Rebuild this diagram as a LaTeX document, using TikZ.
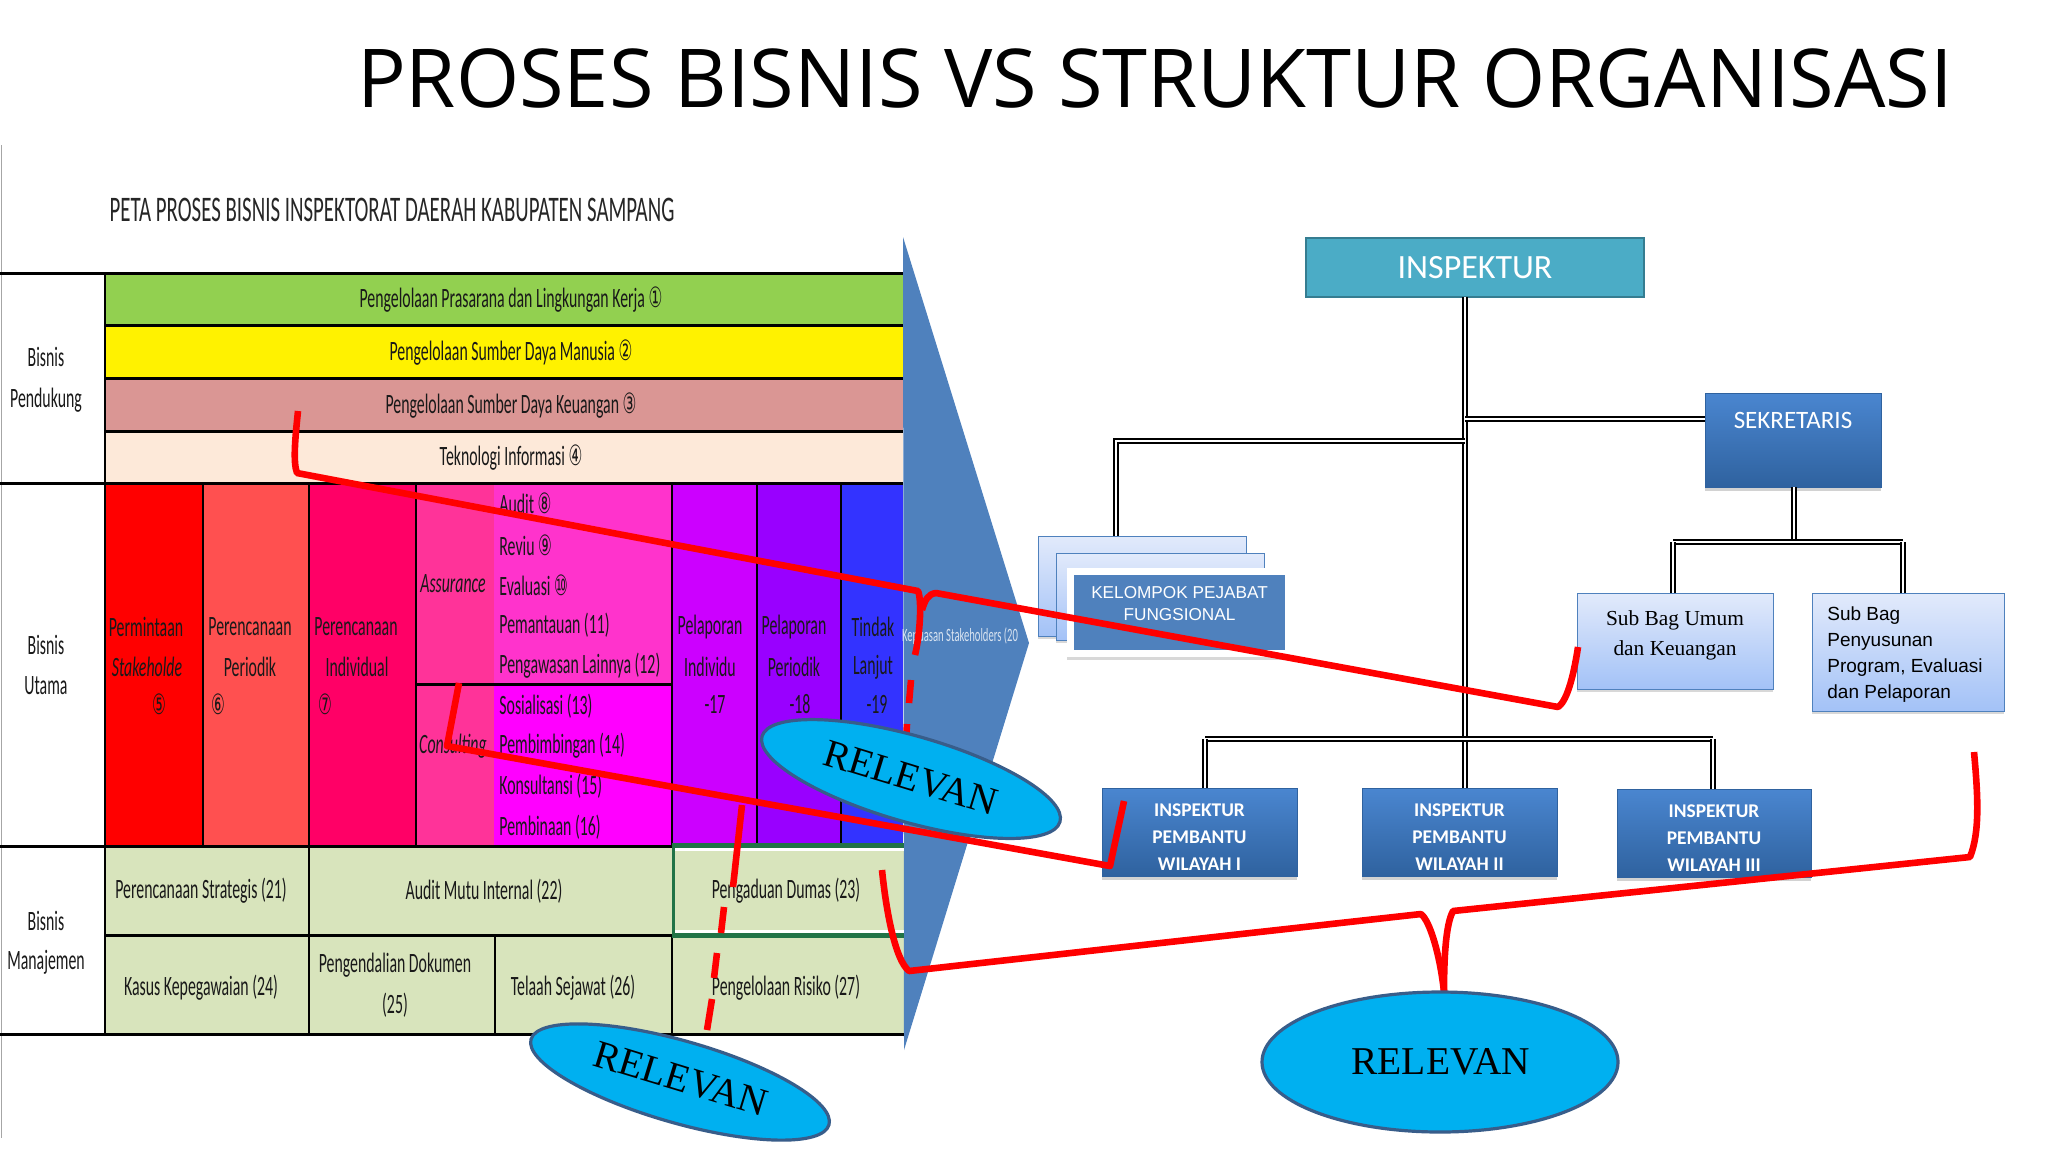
\documentclass[tikz,border=0pt]{standalone}
\usepackage{fontspec}
\usetikzlibrary{shadows,calc,shapes.geometric}
\setmainfont{Liberation Serif}
\newfontfamily\titlef{Open Sans}
\newfontfamily\tabf[FakeStretch=0.565]{Carlito}
\newfontfamily\hdf[FakeStretch=0.58]{Carlito}
\newfontfamily\circf[FakeStretch=0.55]{DejaVu Sans}
\newfontfamily\calf{Carlito}
\newfontfamily\arialf{Liberation Sans}
\newfontfamily\serf{Liberation Serif}
\newcommand{\cn}[1]{{\circf #1}}
\newcommand{\bx}[7]{%
 \pgfmathsetmacro\bxcx{(#3+#5)/2}\pgfmathsetmacro\bxcy{(#4+#6)/2}%
 \pgfmathsetmacro\bxw{(#5-#3)*0.5}\pgfmathsetmacro\bxh{(#6-#4)*0.5}%
 \node[#1,minimum width=\bxw pt,minimum height=\bxh pt] (#2) at (\bxcx,\bxcy) {#7};}
\definecolor{tgreen}{HTML}{92D050}
\definecolor{tpink}{HTML}{DA9694}
\definecolor{tpeach}{HTML}{FDE9D9}
\definecolor{c1}{HTML}{FF0000}
\definecolor{c2}{HTML}{FF5050}
\definecolor{c3}{HTML}{FF0066}
\definecolor{c4}{HTML}{FF3399}
\definecolor{c5}{HTML}{FF33CC}
\definecolor{c6}{HTML}{FF00FF}
\definecolor{c7}{HTML}{CC00FF}
\definecolor{c8}{HTML}{9900FF}
\definecolor{c9}{HTML}{3333FF}
\definecolor{olivecell}{HTML}{D8E4BC}
\definecolor{arrowblue}{HTML}{4F81BD}
\definecolor{selgreen}{HTML}{217346}
\definecolor{cyanfill}{HTML}{00B0F0}
\definecolor{ellborder}{HTML}{385D8A}
\definecolor{inspfill}{HTML}{4BACC6}
\definecolor{inspdraw}{HTML}{357D91}
\definecolor{btop}{HTML}{4A86D0}
\definecolor{bbot}{HTML}{2F629F}
\definecolor{ltop}{HTML}{E2EAFB}
\definecolor{lbot}{HTML}{A3C2F7}
\tikzset{
 cellb/.style={inner sep=0pt,outer sep=0pt,fill=#1,draw=none},
 tline/.style={black,line width=1.5pt},
 vline/.style={black,line width=0.7pt},
 tt/.style={font=\tabf\fontsize{14}{14}\selectfont,inner sep=0pt,text=black!90},
 hd/.style={font=\hdf\fontsize{18}{18}\selectfont,inner sep=0pt,text=black!85},
 ttl/.style={font=\tabf\fontsize{14}{14}\selectfont,inner sep=0pt,anchor=west,text=black!90},
 dbl/.style={draw=black,double=white,line width=0.75pt,double distance=1.3pt},
 orgtop/.style={inner sep=0pt,outer sep=0pt,draw=inspdraw,line width=1.3pt,fill=inspfill},
 orgblue/.style={inner sep=0pt,outer sep=0pt,top color=btop,bottom color=bbot,draw=bbot,line width=0.4pt,text=white,drop shadow={shadow xshift=0pt,shadow yshift=-2pt,opacity=.35}},
 orglight/.style={inner sep=0pt,outer sep=0pt,top color=ltop,bottom color=lbot,draw=arrowblue,line width=0.5pt,drop shadow={shadow xshift=0pt,shadow yshift=-1.5pt,opacity=.3}},
 wtxt/.style={font=\calf\bfseries\fontsize{9.7}{13.4}\selectfont,align=center,text=white,inner sep=0pt},
 redl/.style={red,line width=3.3pt,line join=round,line cap=butt},
 relev/.style={ellipse,fill=cyanfill,draw=ellborder,line width=1.6pt,inner sep=0pt,outer sep=0pt},
 relevt/.style={font=\serf\fontsize{19.7}{19.7}\selectfont,text=black,inner sep=0pt},
}
\begin{document}
\begin{tikzpicture}[x=0.5pt,y=-0.5pt]
\useasboundingbox (0,0) rectangle (2048,1152);
\fill[white] (0,0) rectangle (2048,1152);
\draw[gray!70,line width=0.5pt] (1,145) -- (1,1138);
\node[font=\titlef\fontsize{40.6}{40.6}\selectfont,inner sep=0pt,text=black] (title) at (1155,78) {PROSES BISNIS VS STRUKTUR ORGANISASI};
\node[hd] (peta) at (392,210) {PETA PROSES BISNIS INSPEKTORAT DAERAH KABUPATEN SAMPANG};
% table fills
\bx{cellb=tgreen}{r1}{105}{273}{903}{325}{}
\bx{cellb=yellow}{r2}{105}{325}{903}{378}{}
\bx{cellb=tpink}{r3}{105}{378}{903}{431}{}
\bx{cellb=tpeach}{r4}{105}{431}{903}{483}{}
\bx{cellb=c1}{k1}{105}{483}{203}{846}{}
\bx{cellb=c2}{k2}{203}{483}{309}{846}{}
\bx{cellb=c3}{k3}{309}{483}{416}{846}{}
\bx{cellb=c4}{k4}{416}{483}{494}{846}{}
\bx{cellb=c5}{k5}{494}{483}{672}{684}{}
\bx{cellb=c6}{k6}{494}{684}{672}{846}{}
\bx{cellb=c7}{k7}{672}{483}{757}{846}{}
\bx{cellb=c8}{k8}{757}{483}{841}{846}{}
\bx{cellb=c9}{k9}{841}{483}{903}{846}{}
\bx{cellb=olivecell}{m1}{105}{846}{904}{1034}{}
% arrow
\fill[arrowblue] (903,237) -- (1029,643) -- (904,1050) -- cycle;
\node[font=\tabf\fontsize{9.4}{9.4}\selectfont,text=white!78!arrowblue,inner sep=0pt] (kep) at (960,636) {Kepuasan Stakeholders (20};
% table lines
\draw[tline] (0,273) -- (903,273);
\draw[tline] (105,325) -- (903,325);
\draw[tline] (105,378) -- (903,378);
\draw[tline] (105,431) -- (903,431);
\draw[tline] (0,483) -- (903,483);
\draw[tline] (0,846) -- (672,846);
\draw[tline] (105,935) -- (672,935);
\draw[tline] (0,1034) -- (904,1034);
\draw[tline] (416,684) -- (672,684);
\draw[vline] (105,273) -- (105,1034);
\foreach \xx in {203,309,416,672,757,841} \draw[vline] (\xx,483) -- (\xx,846);
\draw[vline] (309,846) -- (309,1034);
\draw[vline] (495,935) -- (495,1034);
\draw[vline] (672,935) -- (672,1034);
\fill[selgreen] (672,843) rectangle (904,848);
\fill[selgreen] (672,933) rectangle (904,938);
\fill[white] (674,848) rectangle (904,851);
\fill[white] (674,930) rectangle (904,933);
\fill[selgreen] (672,843) rectangle (674.5,938);
% table text
\node[tt] (t1) at (511,300) {Pengelolaan Prasarana dan Lingkungan Kerja \cn{①}};
\node[tt] (t2) at (511,353) {Pengelolaan Sumber Daya Manusia \cn{②}};
\node[tt] (t3) at (511,406) {Pengelolaan Sumber Daya Keuangan \cn{③}};
\node[tt] (t4) at (511,458) {Teknologi Informasi \cn{④}};
\node[tt] (lb1) at (46,357) {Bisnis};
\node[tt] (lb2) at (46,400) {Pendukung};
\node[tt] (lb3) at (46,645) {Bisnis};
\node[tt] (lb4) at (46,686) {Utama};
\node[tt] (lb5) at (46,921) {Bisnis};
\node[tt] (lb6) at (46,962) {Manajemen};
\node[tt] (a1) at (146,627) {Permintaan};
\node[tt,font=\tabf\itshape\fontsize{14}{14}\selectfont] (a2) at (147,667) {Stakeholde};
\node[tt] (a3) at (159,704) {\cn{⑤}};
\node[tt] (b1) at (250,627) {Perencanaan};
\node[tt] (b2) at (250,667) {Periodik};
\node[tt] (b3) at (218,704) {\cn{⑥}};
\node[tt] (c1n) at (356,627) {Perencanaan};
\node[tt] (c2n) at (357,667) {Individual};
\node[tt] (c3n) at (325,704) {\cn{⑦}};
\node[tt,font=\tabf\itshape\fontsize{14}{14}\selectfont] (as) at (453,584) {Assurance};
\node[tt,font=\tabf\itshape\fontsize{14}{14}\selectfont] (co) at (453,746) {Consulting};
\node[ttl] (l1) at (499,503) {Audit \cn{⑧}};
\node[ttl] (l2) at (499,545) {Reviu \cn{⑨}};
\node[ttl] (l3) at (499,585) {Evaluasi \cn{⑩}};
\node[ttl] (l4) at (499,625) {Pemantauan (11)};
\node[ttl] (l5) at (499,666) {Pengawasan Lainnya (12)};
\node[ttl] (l6) at (499,706) {Sosialisasi (13)};
\node[ttl] (l7) at (499,746) {Pembimbingan (14)};
\node[ttl] (l8) at (499,786) {Konsultansi (15)};
\node[ttl] (l9) at (499,827) {Pembinaan (16)};
\node[tt] (d1) at (710,627) {Pelaporan};
\node[tt] (d2) at (710,667) {Individu};
\node[tt] (d3) at (715,704) {-17};
\node[tt] (e1) at (794,627) {Pelaporan};
\node[tt] (e2) at (794,667) {Periodik};
\node[tt] (e3) at (800,704) {-18};
\node[tt] (f1) at (873,627) {Tindak};
\node[tt] (f2) at (873,667) {Lanjut};
\node[tt] (f3) at (877,704) {-19};
\node[tt] (g1) at (201,891) {Perencanaan Strategis (21)};
\node[tt] (g2) at (484,891) {Audit Mutu Internal (22)};
\node[tt] (g3) at (786,891) {Pengaduan Dumas (23)};
\node[tt] (g4) at (201,988) {Kasus Kepegawaian (24)};
\node[tt] (g5) at (395,965) {Pengendalian Dokumen};
\node[tt] (g5b) at (395,1005) {(25)};
\node[tt] (g6) at (573,988) {Telaah Sejawat (26)};
\node[tt] (g7) at (786,988) {Pengelolaan Risiko (27)};
% org chart
\bx{orgtop}{insp}{1306}{238}{1644}{297}{}
\node[font=\calf\fontsize{17}{17}\selectfont,text=white,inner sep=0pt] (insptxt) at (insp.center) {INSPEKTUR};
\bx{orgblue}{sek}{1705}{393}{1881}{487}{}
\node[font=\calf\fontsize{12.5}{12.5}\selectfont,text=white,inner sep=0pt] (sektxt) at (1793,420) {SEKRETARIS};
\bx{orglight}{kel1}{1038}{536}{1246}{636}{}
\bx{orglight}{kel2}{1056}{553}{1264}{640}{}
\bx{cellb=white,drop shadow={shadow xshift=0pt,shadow yshift=-1.5pt,opacity=.3}}{kel3}{1067}{568}{1291}{657}{}
\bx{cellb=arrowblue,text=white,align=center,font=\arialf\fontsize{8.6}{11.5}\selectfont}{kel}{1074}{575}{1285}{650}{\raisebox{9pt}{\shortstack{KELOMPOK PEJABAT\\[1.5pt]FUNGSIONAL}}}
\bx{orglight,font=\serf\fontsize{10.7}{15}\selectfont,align=center}{sb1}{1577}{593}{1773}{689}{\raisebox{8pt}{\shortstack{Sub Bag Umum\\[2pt]dan Keuangan}}}
\bx{orglight}{sb2}{1812}{593}{2004}{711}{}
\node[font=\arialf\fontsize{9.5}{13}\selectfont,anchor=west,align=left,inner sep=0pt] (sb2t) at (1827,655) {Sub Bag\\Penyusunan\\Program, Evaluasi\\dan Pelaporan};
\bx{orgblue}{w1}{1102}{788}{1297}{876}{}
\bx{orgblue}{w2}{1362}{788}{1557}{876}{}
\bx{orgblue}{w3}{1617}{789}{1811}{877}{}
\node[wtxt] (w1t) at ($(w1.center)+(0,5)$) {INSPEKTUR\\PEMBANTU\\WILAYAH I};
\node[wtxt] (w2t) at ($(w2.center)+(0,5)$) {INSPEKTUR\\PEMBANTU\\WILAYAH II};
\node[wtxt] (w3t) at ($(w3.center)+(0,5)$) {INSPEKTUR\\PEMBANTU\\WILAYAH III};
\coordinate (trunk) at (1465,297);
\coordinate (jS) at (1465,419);
\coordinate (jK) at (1465,441);
\coordinate (jK2) at (1116,441);
\coordinate (jT) at (1794,542);
\coordinate (jL) at (1673,542);
\coordinate (jR) at (1903,542);
\coordinate (jWL) at (1205,739);
\coordinate (jWR) at (1713,739);
\draw[dbl] (insp.south -| trunk) -- (w2.north -| trunk);
\draw[dbl] (jS) -- (jS -| sek.west);
\draw[dbl] (jK) -- (jK2) -- (jK2 |- kel1.north);
\draw[dbl] (sek.south -| jT) -- (jT);
\draw[dbl] (jL) -- (jR);
\draw[dbl] (jL) -- (jL |- sb1.north);
\draw[dbl] (jR) -- (jR |- sb2.north);
\draw[dbl] (jWL) -- (jWR);
\draw[dbl] (jWL) -- (jWL |- w1.north);
\draw[dbl] (jWR) -- (jWR |- w3.north);
% red
\draw[redl] (298,411) .. controls (295,440) and (293,462) .. (297,473) -- (918,591)
  .. controls (922,600) and (920,635) .. (915,655);
\draw[redl] (922,610) .. controls (925,600) and (928,594) .. (936,593) -- (1558,707)
  .. controls (1566,702) and (1573,680) .. (1578,647);
\draw[redl] (911,680) -- (909,703);
\draw[redl] (907,724) -- (906,740);
\draw[redl] (459,683) -- (447,746) -- (1110,866) -- (1124,801);
\draw[redl] (742,805) -- (733,887);
\draw[redl] (724,907) -- (721,933);
\draw[redl] (717,953) -- (714,978);
\draw[redl] (712,999) -- (707,1030);
\draw[redl] (882,870) .. controls (886,910) and (895,960) .. (909,971) -- (1421,914)
  .. controls (1430,921) and (1440,955) .. (1444,992);
\draw[redl] (1974,752) .. controls (1978,796) and (1980,832) .. (1970,857) -- (1453,911)
  .. controls (1446,924) and (1444,955) .. (1444,992);
% ellipses
\node[relev,minimum width=310*0.5pt,minimum height=86*0.5pt,rotate=-16] (e2a) at (911,779) {};
\node[relevt,rotate=-17] (e2t) at (911,778) {RELEVAN};
\node[relev,minimum width=310*0.5pt,minimum height=82*0.5pt,rotate=-16] (e3a) at (680,1082) {};
\node[relevt,rotate=-17] (e3t) at (681,1079) {RELEVAN};
\node[relev,minimum width=356*0.5pt,minimum height=140*0.5pt] (e1a) at (1440,1062) {};
\node[relevt] (e1t) at (1441,1062) {RELEVAN};
\end{tikzpicture}
\end{document}
